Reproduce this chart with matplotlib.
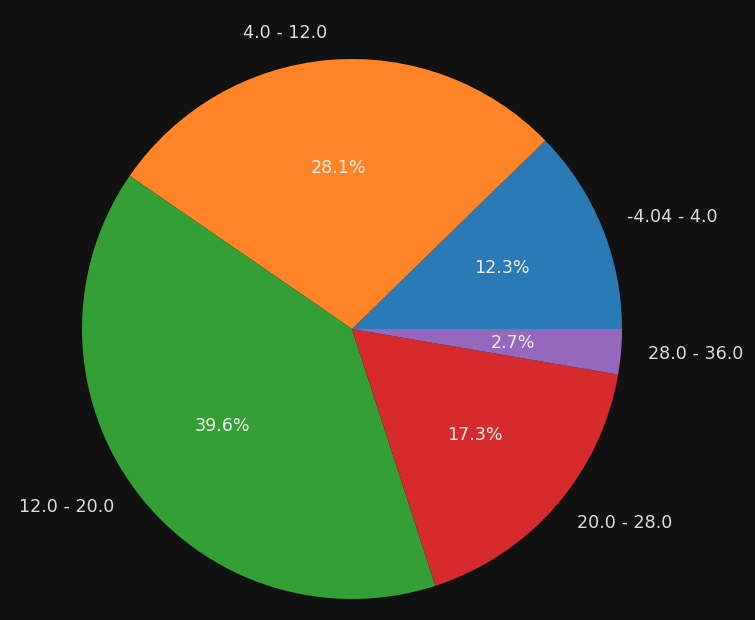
import matplotlib.pyplot as plt

# bins and share of values in each
labels = ['-4.04 - 4.0', '4.0 - 12.0', '12.0 - 20.0', '20.0 - 28.0', '28.0 - 36.0']
shares = [12.3, 28.1, 39.6, 17.3, 2.7]
colors = ['#2a7ab5', '#ff8327', '#339f34', '#d62a2d', '#9568bd']

bg = '#111111'
txt = '#dddddd'

fig = plt.figure(figsize=(7.55, 6.2), dpi=100, facecolor=bg)
ax = fig.add_axes([0, 0, 1, 1])
ax.set_facecolor(bg)

wedges, texts, autotexts = ax.pie(shares, labels=labels, colors=colors,
                                  autopct='%1.1f%%', startangle=0,
                                  textprops={'color': txt, 'fontsize': 12.6})
for t in autotexts:
    t.set_color('#eeeeee')

# place the pie so it fills the picture like the original
ax.set_xlim(-352 / 270, (755 - 352) / 270)
ax.set_ylim(-(620 - 329) / 270, 329 / 270)
ax.set_aspect('auto')
ax.axis('off')

fig.savefig('out.png', facecolor=bg)
